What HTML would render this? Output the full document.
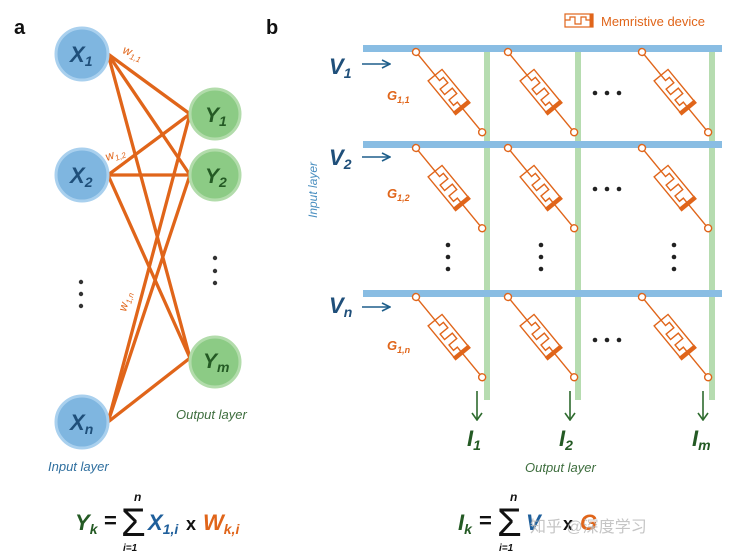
<!DOCTYPE html>
<html><head><meta charset="utf-8"><style>
html,body{margin:0;padding:0;background:#fff;}
svg{display:block;}
text{font-family:"Liberation Sans","Noto Sans CJK SC",sans-serif;}
</style></head><body>
<svg width="737" height="560" viewBox="0 0 737 560" xmlns="http://www.w3.org/2000/svg">
<defs>
<g id="dev" fill="none" stroke="#e0651a" stroke-width="1.4">
  <circle cx="0" cy="0" r="3.5" fill="#fff"/>
  <line x1="3.5" y1="0" x2="30" y2="0"/>
  <rect x="30" y="-9" width="42" height="18" fill="#fff"/>
  <path d="M30 0 H37 V-5 H44 V5 H51 V-5 H58 V5 H65 V0 H72"/>
  <line x1="72" y1="-10" x2="72" y2="10" stroke-width="4.5"/>
  <line x1="72" y1="0" x2="100" y2="0"/>
  <circle cx="104" cy="0" r="3.5" fill="#fff"/>
</g>
<marker id="ab" markerWidth="10" markerHeight="10" refX="9" refY="5" orient="auto" markerUnits="userSpaceOnUse"><path d="M1 1 L9 5 L1 9" fill="none" stroke="#1f5f8b" stroke-width="1.6"/></marker>
<marker id="ag" markerWidth="12" markerHeight="12" refX="6" refY="11" orient="0" markerUnits="userSpaceOnUse"><path d="M1 4 L6 11 L11 4" fill="none" stroke="#2e6b2e" stroke-width="1.6"/></marker>
</defs>

<text x="14" y="34" font-size="20" font-weight="bold" fill="#111">a</text>
<text x="266" y="34" font-size="20" font-weight="bold" fill="#111">b</text>

<g stroke="#e0651a" stroke-width="3.3" stroke-linecap="round">
  <line x1="108" y1="54" x2="190" y2="114"/>
  <line x1="108" y1="54" x2="190" y2="175"/>
  <line x1="108" y1="54" x2="190" y2="358"/>
  <line x1="108" y1="175" x2="190" y2="114"/>
  <line x1="108" y1="175" x2="190" y2="175"/>
  <line x1="108" y1="175" x2="190" y2="358"/>
  <line x1="108" y1="422" x2="190" y2="114"/>
  <line x1="108" y1="422" x2="190" y2="175"/>
  <line x1="108" y1="422" x2="190" y2="358"/>
</g>
<g fill="#7fb6e0" stroke="#a9d0ee" stroke-width="3">
  <circle cx="82" cy="54" r="26"/>
  <circle cx="82" cy="175" r="26"/>
  <circle cx="82" cy="422" r="26"/>
</g>
<g fill="#8ccb85" stroke="#b2dcab" stroke-width="3">
  <circle cx="215" cy="114" r="25"/>
  <circle cx="215" cy="175" r="25"/>
  <circle cx="215" cy="362" r="25"/>
</g>
<g font-style="italic" font-weight="bold" font-size="22" fill="#1f4f7a">
  <text x="70" y="62">X<tspan font-size="14" dy="4">1</tspan></text>
  <text x="70" y="183">X<tspan font-size="14" dy="4">2</tspan></text>
  <text x="70" y="430">X<tspan font-size="14" dy="4">n</tspan></text>
</g>
<g font-style="italic" font-weight="bold" font-size="21" fill="#245a24">
  <text x="205" y="122">Y<tspan font-size="14" dy="4">1</tspan></text>
  <text x="205" y="183">Y<tspan font-size="14" dy="4">2</tspan></text>
  <text x="203" y="368">Y<tspan font-size="14" dy="4">m</tspan></text>
</g>
<g font-style="italic" font-size="12" fill="#e0651a">
  <text x="122" y="53" transform="rotate(20 122 53)">w<tspan font-size="8" dy="3">1,1</tspan></text>
  <text x="107" y="161" transform="rotate(-20 107 161)">w<tspan font-size="8" dy="3">1,2</tspan></text>
  <text x="126" y="312" transform="rotate(-75 126 312)">w<tspan font-size="8" dy="3">1,n</tspan></text>
</g>
<g fill="#333">
  <circle cx="81" cy="282" r="2.2"/><circle cx="81" cy="294" r="2.2"/><circle cx="81" cy="306" r="2.2"/>
  <circle cx="215" cy="258" r="2.2"/><circle cx="215" cy="271" r="2.2"/><circle cx="215" cy="283" r="2.2"/>
</g>
<text x="176" y="419" font-size="13" font-style="italic" fill="#3e6e3e">Output layer</text>
<text x="48" y="471" font-size="13" font-style="italic" fill="#2f6f9f">Input layer</text>
<g font-style="italic" font-weight="bold" font-size="22">
  <text x="75" y="530" fill="#245a24">Y<tspan font-size="14" dy="4">k</tspan></text>
  <text x="104" y="528" fill="#111" font-style="normal">=</text>
  <text x="121" y="536" fill="#111" font-style="normal" font-size="40" font-weight="normal">Σ</text>
  <text x="134" y="501" font-size="12" fill="#111">n</text>
  <text x="123" y="551" font-size="10" fill="#111">i=1</text>
  <text x="148" y="530" fill="#1f5f9b">X<tspan font-size="14" dy="4">1,i</tspan></text>
  <text x="186" y="530" fill="#111" font-style="normal" font-size="18">x</text>
  <text x="203" y="530" fill="#e0651a">W<tspan font-size="14" dy="4">k,i</tspan></text>
</g>

<g fill="#b6dcb0">
  <rect x="484" y="50" width="6" height="350"/>
  <rect x="575" y="50" width="6" height="350"/>
  <rect x="709" y="50" width="6" height="350"/>
</g>
<g fill="#89bde3">
  <rect x="363" y="45" width="359" height="7"/>
  <rect x="363" y="141" width="359" height="7"/>
  <rect x="363" y="290" width="359" height="7"/>
</g>
<g>
  <use href="#dev" transform="translate(416,52) rotate(50.5)"/>
  <use href="#dev" transform="translate(508,52) rotate(50.5)"/>
  <use href="#dev" transform="translate(642,52) rotate(50.5)"/>
  <use href="#dev" transform="translate(416,148) rotate(50.5)"/>
  <use href="#dev" transform="translate(508,148) rotate(50.5)"/>
  <use href="#dev" transform="translate(642,148) rotate(50.5)"/>
  <use href="#dev" transform="translate(416,297) rotate(50.5)"/>
  <use href="#dev" transform="translate(508,297) rotate(50.5)"/>
  <use href="#dev" transform="translate(642,297) rotate(50.5)"/>
</g>
<g fill="#222">
  <circle cx="595" cy="93" r="2.3"/><circle cx="607" cy="93" r="2.3"/><circle cx="619" cy="93" r="2.3"/>
  <circle cx="595" cy="189" r="2.3"/><circle cx="607" cy="189" r="2.3"/><circle cx="619" cy="189" r="2.3"/>
  <circle cx="595" cy="340" r="2.3"/><circle cx="607" cy="340" r="2.3"/><circle cx="619" cy="340" r="2.3"/>
  <circle cx="448" cy="245" r="2.3"/><circle cx="448" cy="257" r="2.3"/><circle cx="448" cy="269" r="2.3"/>
  <circle cx="541" cy="245" r="2.3"/><circle cx="541" cy="257" r="2.3"/><circle cx="541" cy="269" r="2.3"/>
  <circle cx="674" cy="245" r="2.3"/><circle cx="674" cy="257" r="2.3"/><circle cx="674" cy="269" r="2.3"/>
</g>
<g font-style="italic" font-weight="bold" font-size="13" fill="#e0651a">
  <text x="387" y="100">G<tspan font-size="9" dy="3">1,1</tspan></text>
  <text x="387" y="198">G<tspan font-size="9" dy="3">1,2</tspan></text>
  <text x="387" y="350">G<tspan font-size="9" dy="3">1,n</tspan></text>
</g>
<g font-style="italic" font-weight="bold" font-size="22" fill="#1f4f7a">
  <text x="329" y="74">V<tspan font-size="14" dy="4">1</tspan></text>
  <text x="329" y="165">V<tspan font-size="14" dy="4">2</tspan></text>
  <text x="329" y="313">V<tspan font-size="14" dy="4">n</tspan></text>
</g>
<g stroke="#1f5f8b" stroke-width="1.6" marker-end="url(#ab)">
  <line x1="362" y1="64" x2="390" y2="64"/>
  <line x1="362" y1="157" x2="390" y2="157"/>
  <line x1="362" y1="307" x2="390" y2="307"/>
</g>
<text x="317" y="218" transform="rotate(-90 317 218)" font-size="12" font-style="italic" fill="#4a8fc0">Input layer</text>
<g stroke="#2e6b2e" stroke-width="1.6" marker-end="url(#ag)">
  <line x1="477" y1="391" x2="477" y2="420"/>
  <line x1="570" y1="391" x2="570" y2="420"/>
  <line x1="703" y1="391" x2="703" y2="420"/>
</g>
<g font-style="italic" font-weight="bold" font-size="22" fill="#245a24">
  <text x="467" y="446">I<tspan font-size="14" dy="4">1</tspan></text>
  <text x="559" y="446">I<tspan font-size="14" dy="4">2</tspan></text>
  <text x="692" y="446">I<tspan font-size="14" dy="4">m</tspan></text>
</g>
<text x="525" y="472" font-size="13" font-style="italic" fill="#3e6e3e">Output layer</text>
<g transform="translate(565,14)" fill="none" stroke="#e0651a" stroke-width="1.2">
  <rect x="0" y="0" width="28" height="13"/>
  <path d="M0 6 H5 V3 H10 V10 H16 V3 H21 V6 H26"/>
  <line x1="26" y1="0" x2="26" y2="13" stroke-width="3"/>
</g>
<text x="601" y="26" font-size="13" fill="#e0651a">Memristive device</text>
<g font-style="italic" font-weight="bold" font-size="22">
  <text x="458" y="530" fill="#245a24">I<tspan font-size="14" dy="4">k</tspan></text>
  <text x="479" y="528" fill="#111" font-style="normal">=</text>
  <text x="497" y="536" fill="#111" font-style="normal" font-size="40" font-weight="normal">Σ</text>
  <text x="510" y="501" font-size="12" fill="#111">n</text>
  <text x="499" y="551" font-size="10" fill="#111">i=1</text>
  <text x="526" y="530" fill="#1f5f9b">V</text>
  <text x="563" y="530" fill="#111" font-style="normal" font-size="18">x</text>
  <text x="580" y="530" fill="#e0651a">G</text>
</g>
<text x="530" y="532" font-size="16" fill="#bbb" opacity="0.85">知乎 @深度学习</text>
</svg>
</body></html>
